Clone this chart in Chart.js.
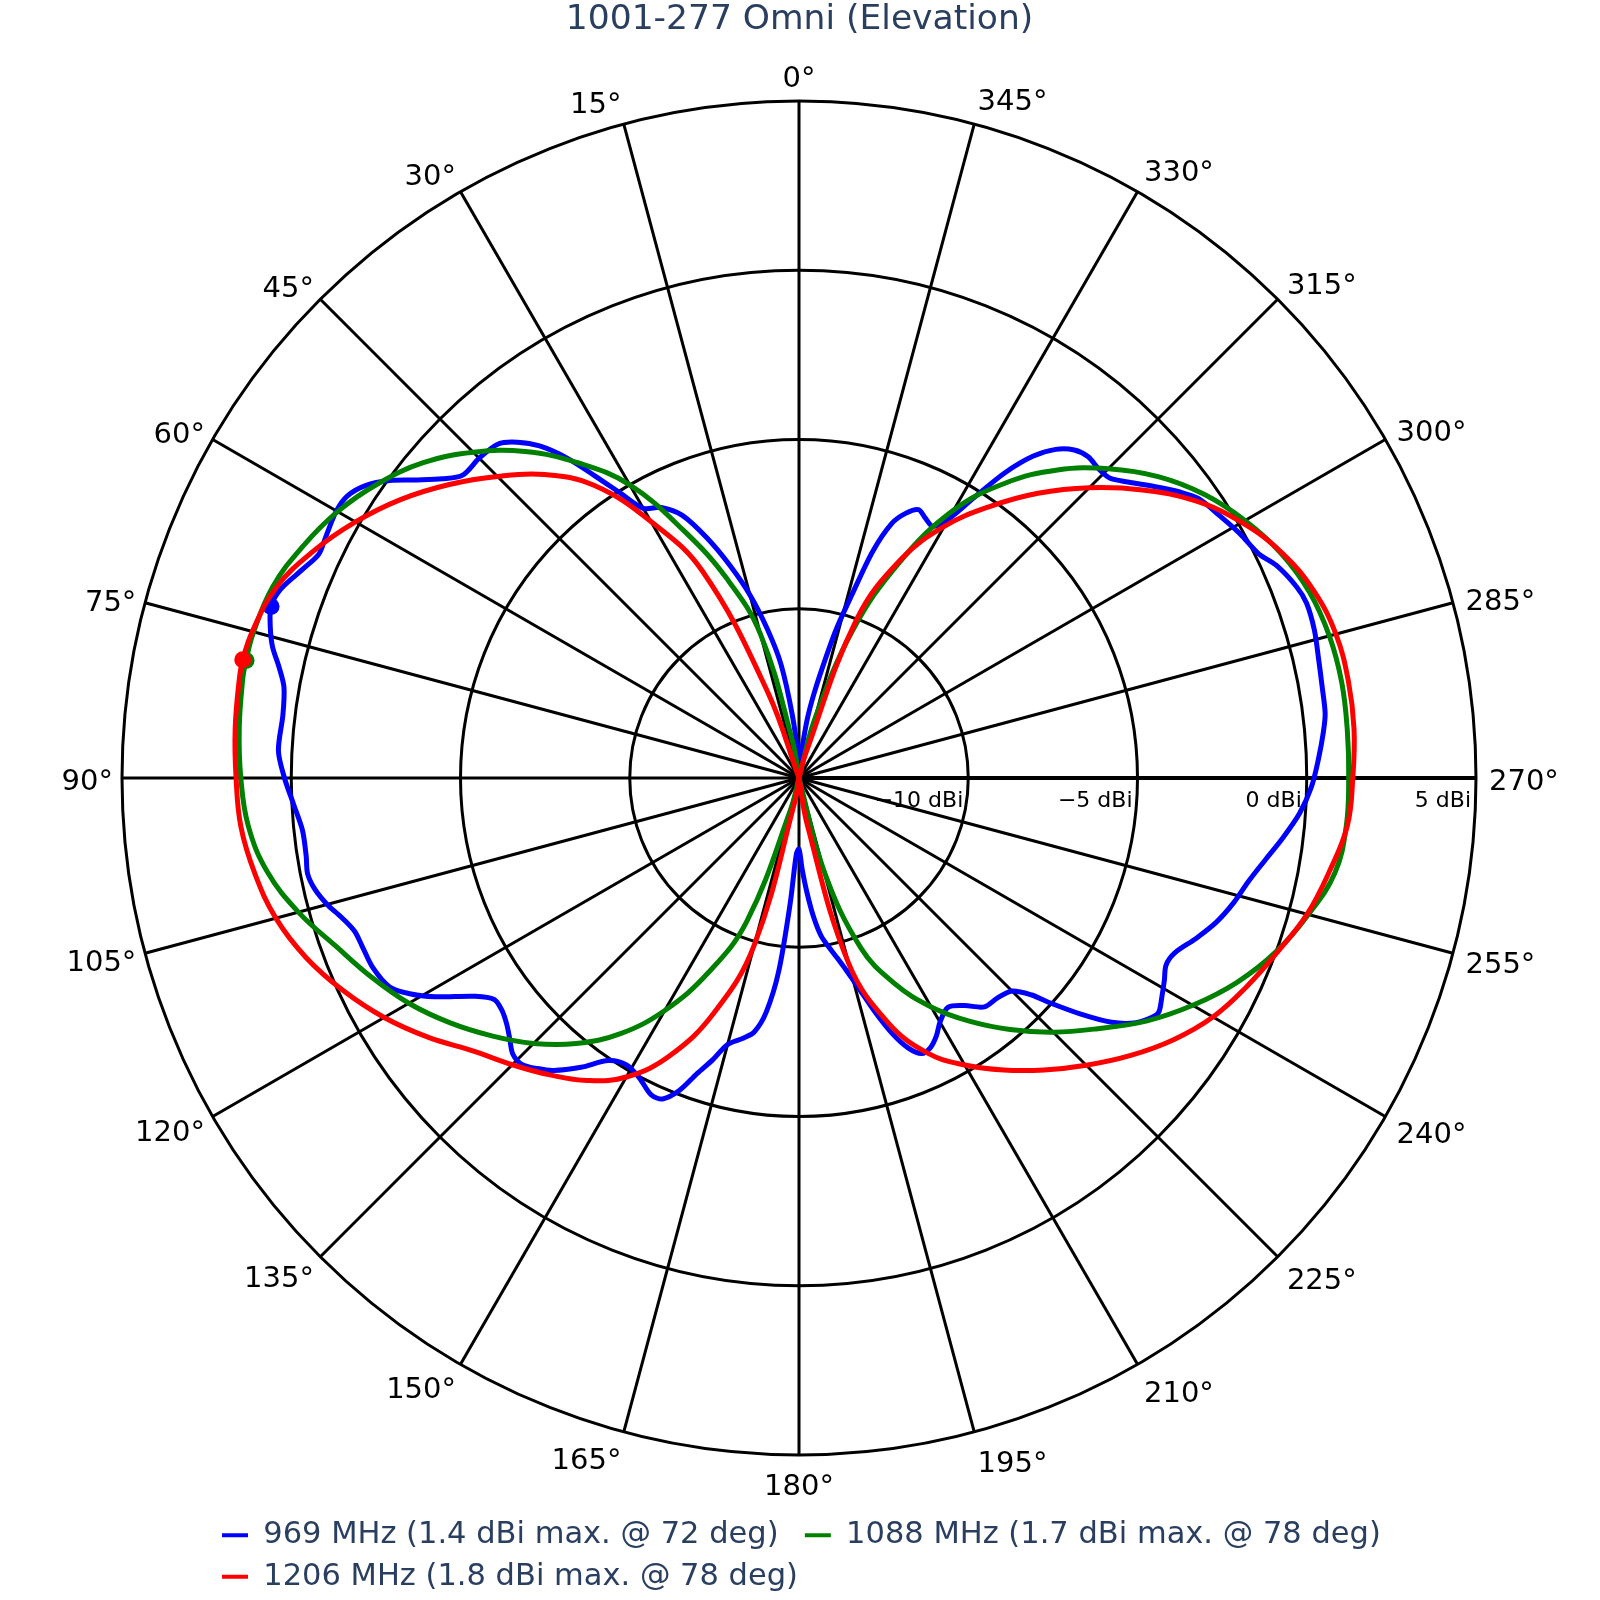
<!DOCTYPE html>
<html>
<head>
<meta charset="utf-8">
<title>1001-277 Omni (Elevation)</title>
<script src="https://cdn.jsdelivr.net/npm/chart.js@4.4.1/dist/chart.umd.min.js"></script>
<style>
  html, body { margin: 0; padding: 0; background: #fff; }
</style>
</head>
<body>
<canvas id="patternChart" width="1600" height="1600"></canvas>
<script>
const titleText = "1001-277 Omni (Elevation)";

// one label per degree, going clockwise from the top: 0, 359, 358 ... 1
const angleLabels = Array.from({ length: 360 }, (_, i) => (360 - i) % 360);
const angleTicks = [0, 15, 30, 45, 60, 75, 90, 105, 120, 135, 150, 165, 180, 195, 210, 225, 240, 255, 270, 285, 300, 315, 330, 345];
const radialTicks = [-10, -5, 0, 5];

const seriesNames = [
  "969 MHz (1.4 dBi max. @ 72 deg)",
  "1088 MHz (1.7 dBi max. @ 78 deg)",
  "1206 MHz (1.8 dBi max. @ 78 deg)"
];
const seriesColors = ["#0000ff", "#008000", "#ff0000"];

// 969 MHz
const blueAngles = [0, 3, 6, 9, 12, 15, 18, 21, 24, 27, 30, 32, 34, 36, 38, 40, 42, 45, 48, 50, 52, 54, 56, 58, 60, 63, 65, 67, 70, 72, 74, 76, 78, 80, 83, 87,
  90, 93, 96, 99, 101, 103, 105, 107, 109, 111, 114, 117, 119, 121, 124, 126, 128, 130, 132, 134, 136, 138, 140, 143, 146, 149, 152, 155, 157, 159, 161, 163, 165, 168, 170, 172, 174, 176, 178,
  180, 182, 184, 186, 188, 190, 192, 194, 196, 198, 200, 202, 204, 206, 208, 210, 213, 216, 219, 222, 225, 227, 228, 230, 232, 234, 236, 237, 239, 241, 243, 245, 248, 251, 254, 257, 260, 263, 266, 269,
  272, 275, 277, 280, 283, 286, 289, 291, 294, 296, 299, 302, 305, 307, 309, 312, 314, 316, 318, 320, 322, 324, 326, 328, 330, 332, 334, 336, 338, 340, 342, 344, 346, 348, 350, 352, 354, 356, 358];
const blueGain = [-15, -14.3, -13.15, -11.6, -10.5, -9.4, -8.4, -7.4, -6.5, -6.03, -5.8, -5.1, -4.25, -3.3, -2.55, -2.05, -1.72, -1.64, -1.63, -1.25, -0.7, -0.05, 0.45, 0.73, 0.78, 0.69, 0.65, 0.88, 1.3, 1.4, 1.25, 1.03, 0.7, 0.45, 0.36, 0.4,
  0.2, -0.05, -0.25, -0.26, -0.21, -0.33, -0.57, -0.88, -1.11, -1.17, -1.22, -1.42, -1.85, -2.45, -3.47, -3.87, -3.86, -3.72, -3.5, -3.25, -3.23, -3.45, -3.72, -4.3, -4.93, -5.11, -4.96, -4.67, -4.7, -5.1, -5.77, -6.3, -6.85, -7.15, -7.38, -8.0, -9.25, -11.3, -12.75,
  -12.9, -12.3, -11.6, -10.87, -10.28, -9.93, -9.56, -9.1, -8.5, -7.73, -6.98, -6.4, -6.09, -6.14, -6.36, -6.67, -6.92, -6.69, -6.3, -6.25, -6.1, -5.6, -5.11, -4.16, -3.28, -2.7, -2.38, -2.32, -2.49, -2.66, -2.83, -2.76, -2.35, -1.95, -1.64, -1.38, -1.02, -0.59, -0.17, 0.14,
  0.35, 0.55, 0.66, 0.69, 0.75, 0.84, 0.86, 0.75, 0.44, 0.11, -0.11, -0.36, -0.6, -0.95, -1.35, -1.93, -2.24, -2.28, -2.23, -2.35, -2.68, -3.25, -4.12, -5.22, -6.16, -6.58, -6.47, -6.32, -6.56, -7.0, -7.97, -9.43, -10.5, -11.65, -12.5, -13.24, -14.1, -14.7, -15];

// 1088 MHz
const greenAngles = [0, 5, 10, 15, 20, 25, 30, 35, 40, 45, 50, 55, 60, 65, 70, 75, 78, 80, 85,
  90, 95, 100, 105, 110, 115, 120, 125, 130, 135, 140, 145, 150, 155, 160, 165, 170, 175,
  180, 185, 190, 195, 200, 205, 210, 215, 220, 225, 230, 235, 240, 245, 250, 255, 260, 265,
  270, 275, 280, 285, 290, 295, 300, 305, 310, 315, 320, 325, 330, 335, 340, 345, 350, 355];
const greenGain = [-15, -15, -13.9, -10.6, -8.7, -6.93, -5.0, -3.64, -2.41, -1.39, -0.51, 0.17, 0.74, 1.18, 1.54, 1.68, 1.7, 1.69, 1.6,
  1.49, 1.33, 0.95, 0.31, -0.45, -1.07, -1.69, -2.4, -3.15, -3.91, -4.76, -5.77, -7.07, -8.65, -10.5, -14.0, -15, -15,
  -15, -15, -15, -12.2, -9.66, -8.29, -7.19, -6.23, -5.3, -4.38, -3.48, -2.48, -1.57, -0.72, 0.0, 0.58, 1.08, 1.23,
  1.24, 1.26, 1.28, 1.22, 1.05, 0.71, 0.21, -0.39, -1.15, -2.08, -3.12, -4.36, -5.86, -7.96, -10.35, -13.2, -15, -15];

// 1206 MHz
const redAngles = greenAngles.slice();
const redGain = [-15, -15, -15, -15, -12.3, -8.27, -6.25, -4.44, -3.3, -2.4, -1.51, -0.65, 0.13, 0.84, 1.44, 1.72, 1.8, 1.79, 1.72,
  1.63, 1.55, 1.32, 1.0, 0.5, -0.14, -0.85, -1.64, -2.45, -3.02, -3.55, -4.09, -4.8, -5.94, -7.58, -9.88, -14.3, -15,
  -15, -15, -13.6, -9.33, -7.31, -6.04, -5.21, -4.47, -3.74, -3.0, -2.24, -1.51, -0.88, -0.41, 0.04, 0.54, 0.91, 1.26,
  1.36, 1.46, 1.48, 1.42, 1.18, 0.74, 0.1, -0.72, -1.76, -2.87, -4.02, -5.22, -6.42, -7.87, -10.0, -14.3, -15, -15];

const fontFamily = "'DejaVu Sans', Verdana, sans-serif";

// put each reading on its degree slot, the rest stays empty
function toRadar(angles, gains) {
  const arr = new Array(360).fill(null);
  angles.forEach((a, i) => { arr[(360 - a) % 360] = gains[i]; });
  return arr;
}

function peakIndex(angles, gains) {
  let best = 0;
  gains.forEach((g, i) => { if (g > gains[best]) best = i; });
  return (360 - angles[best]) % 360;
}

function makeDataset(k, angles, gains, order, tension) {
  const peak = peakIndex(angles, gains);
  return {
    label: seriesNames[k],
    data: toRadar(angles, gains),
    borderColor: seriesColors[k],
    backgroundColor: seriesColors[k],
    borderWidth: 5,
    fill: false,
    spanGaps: true,
    tension: tension,
    borderJoinStyle: "round",
    pointRadius: ctx => ctx.index === peak ? 8.5 : 0,
    pointHoverRadius: ctx => ctx.index === peak ? 8.5 : 0,
    pointBorderWidth: 0,
    pointBackgroundColor: seriesColors[k],
    order: order
  };
}

const polarText = {
  id: "polarText",
  afterLayout(chart) {
    // legend rows start at the left and sit lower, like the original
    const lg = chart.legend;
    lg.left = 211;
    lg.top += 53;
    lg.bottom = lg.top + lg.height;
  },
  beforeDatasetsDraw(chart) {
    const r = chart.scales.r;
    const ctx = chart.ctx;
    ctx.save();
    ctx.fillStyle = "#000";
    ctx.textBaseline = "middle";

    // angle labels round the outside
    ctx.font = "29px " + fontFamily;
    angleTicks.forEach(a => {
      const idx = (360 - a) % 360;
      const probe = r.getPointPosition(idx, r.drawingArea);
      const hx = Math.cos(probe.angle);
      const up = -Math.sin(probe.angle);
      const side = Math.abs(hx) < 0.01 ? 0 : Math.sign(hx);
      const pad = side === 0 ? 11 : (side > 0 ? 13 : 9);
      const pos = r.getPointPosition(idx, r.drawingArea + pad);
      ctx.textAlign = side === 0 ? "center" : (side > 0 ? "left" : "right");
      const dy = up > 0 ? -14.5 * up * up : 17 * Math.abs(up);
      ctx.fillText(a + "\u00b0", pos.x, pos.y + dy + 4);
    });

    // radial ticks along the 270 degree spoke
    ctx.font = "22px " + fontFamily;
    ctx.textAlign = "right";
    radialTicks.forEach(v => {
      const d = r.getDistanceFromCenterForValue(v);
      const txt = (v < 0 ? "\u2212" + Math.abs(v) : String(v)) + " dBi";
      ctx.fillText(txt, r.xCenter + d - 5, r.yCenter + 23);
    });
    ctx.restore();
  }
};

Chart.defaults.font.family = fontFamily;

new Chart(document.getElementById("patternChart"), {
  type: "radar",
  data: {
    labels: angleLabels,
    datasets: [
      makeDataset(0, blueAngles, blueGain, 3, 0.3),
      makeDataset(1, greenAngles, greenGain, 2, 0.4),
      makeDataset(2, redAngles, redGain, 1, 0.4)
    ]
  },
  options: {
    responsive: false,
    animation: false,
    events: [],
    layout: { padding: { left: 0, right: 1, top: 0, bottom: 51 } },
    plugins: {
      title: {
        display: true,
        text: titleText,
        color: "#2a3f5f",
        font: { family: fontFamily, size: 34.5, weight: "normal", lineHeight: 1 },
        padding: { top: 3, bottom: 63.5 }
      },
      legend: {
        position: "bottom",
        align: "start",
        labels: {
          color: "#2a3f5f",
          font: { family: fontFamily, size: 30.5 },
          boxWidth: 26,
          boxHeight: 4,
          padding: 11,
          sort: (a, b) => a.datasetIndex - b.datasetIndex,
          generateLabels(chart) {
            // a little trailing space keeps the items as far apart as in the original
            return Chart.defaults.plugins.legend.labels.generateLabels(chart)
              .map(item => Object.assign(item, { lineWidth: 0, text: item.text + "\u2002" }));
          }
        }
      },
      tooltip: { enabled: false }
    },
    scales: {
      r: {
        min: -15,
        max: 5,
        startAngle: 0,
        ticks: { display: false, stepSize: 5 },
        grid: { circular: true, color: "#000", lineWidth: 3 },
        angleLines: {
          color: "#000",
          lineWidth: ctx => ctx.index === 90 ? 4 : (angleLabels[ctx.index] % 15 === 0 ? 3 : 0)
        },
        pointLabels: { display: false }
      }
    }
  },
  plugins: [polarText]
});
</script>
</body>
</html>
